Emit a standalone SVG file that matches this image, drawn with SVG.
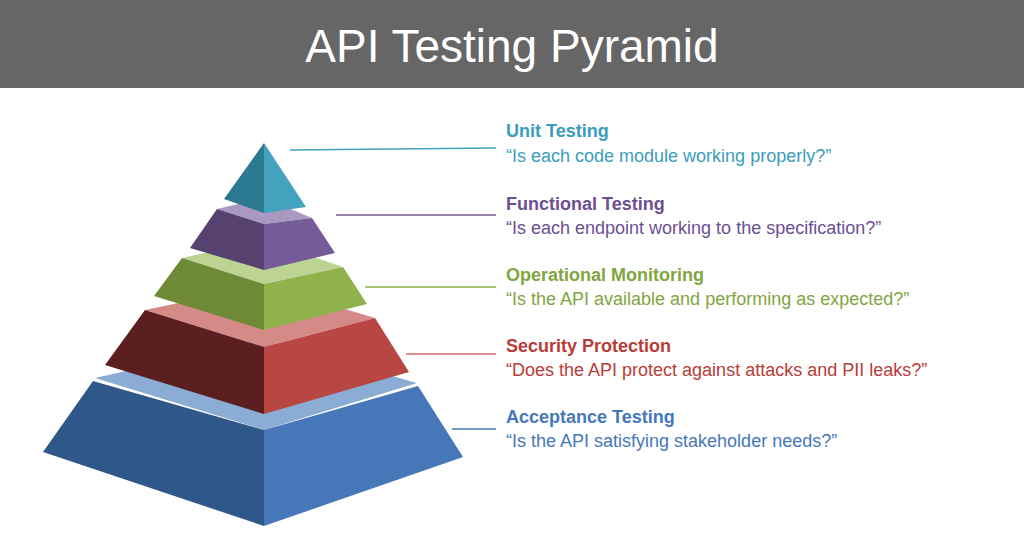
<svg xmlns="http://www.w3.org/2000/svg" width="1024" height="550" viewBox="0 0 1024 550">
<style>
.t{font-family:"Liberation Sans",Arial,sans-serif;font-size:18px;font-weight:bold}
.q{font-family:"Liberation Sans",Arial,sans-serif;font-size:18px}
.c{stroke-width:1.5;fill:none}
</style>
<rect width="1024" height="550" fill="#fff"/>
<rect x="0" y="0" width="1024" height="88" fill="#666"/>
<text x="512" y="62" text-anchor="middle" font-family="Liberation Sans,Arial,sans-serif" font-size="46" fill="#fff">API Testing Pyramid</text>
<g id="connectors">
<line class="c" x1="290" y1="150" x2="496" y2="148" stroke="#43a2bd"/>
<line class="c" x1="336" y1="215" x2="496" y2="215" stroke="#755b98"/>
<line class="c" x1="365" y1="287" x2="496" y2="287" stroke="#8fb24d"/>
<line class="c" x1="406" y1="354" x2="496" y2="354" stroke="#d06b68"/>
<line class="c" x1="452" y1="429" x2="496" y2="429" stroke="#4677b8"/>
</g>
<g id="acceptance">
<polygon points="95,378 264,340 417,383 264,430" fill="#8bacd4"/>
<polygon points="93,381 264,430 264,526 43,452" fill="#305789"/>
<polygon points="264,430 418,386 463,457 264,526" fill="#4677b8"/>
<text class="t" x="506" y="423" fill="#4677b8">Acceptance Testing</text>
<text class="q" x="506" y="447" fill="#4677b8">“Is the API satisfying stakeholder needs?”</text>
</g>
<g id="security">
<polygon points="145,310 264,285 375,318 264,347" fill="#d58a88"/>
<polygon points="145,310 264,347 264,414 105,365" fill="#5a1f1e"/>
<polygon points="264,347 375,318 409,372 264,414" fill="#b84744"/>
<text class="t" x="506" y="352" fill="#b83c38">Security Protection</text>
<text class="q" x="506" y="376" fill="#b83c38">“Does the API protect against attacks and PII leaks?”</text>
</g>
<g id="operational">
<polygon points="182,258 264,240 343,267 264,284" fill="#bcd394"/>
<polygon points="182,258 264,284 264,330 154,296" fill="#6e8a36"/>
<polygon points="264,284 343,267 367,304 264,330" fill="#8fb24d"/>
<text class="t" x="506" y="281" fill="#7fa63f">Operational Monitoring</text>
<text class="q" x="506" y="305" fill="#7fa63f">“Is the API available and performing as expected?”</text>
</g>
<g id="functional">
<polygon points="217,209 264,198 312,218 264,224" fill="#a898c2"/>
<polygon points="217,209 264,224 264,270 190,248" fill="#57416f"/>
<polygon points="264,224 312,218 335,253 264,270" fill="#755b98"/>
<text class="t" x="506" y="210" fill="#6c4f93">Functional Testing</text>
<text class="q" x="506" y="234" fill="#6c4f93">“Is each endpoint working to the specification?”</text>
</g>
<g id="unit">
<polygon points="264,143 224,199 264,213" fill="#2b7a91"/>
<polygon points="264,143 264,213 306,207" fill="#43a2bd"/>
<text class="t" x="506" y="137" fill="#3a9dbb">Unit Testing</text>
<text class="q" x="506" y="162" fill="#3a9dbb">“Is each code module working properly?”</text>
</g>
</svg>
